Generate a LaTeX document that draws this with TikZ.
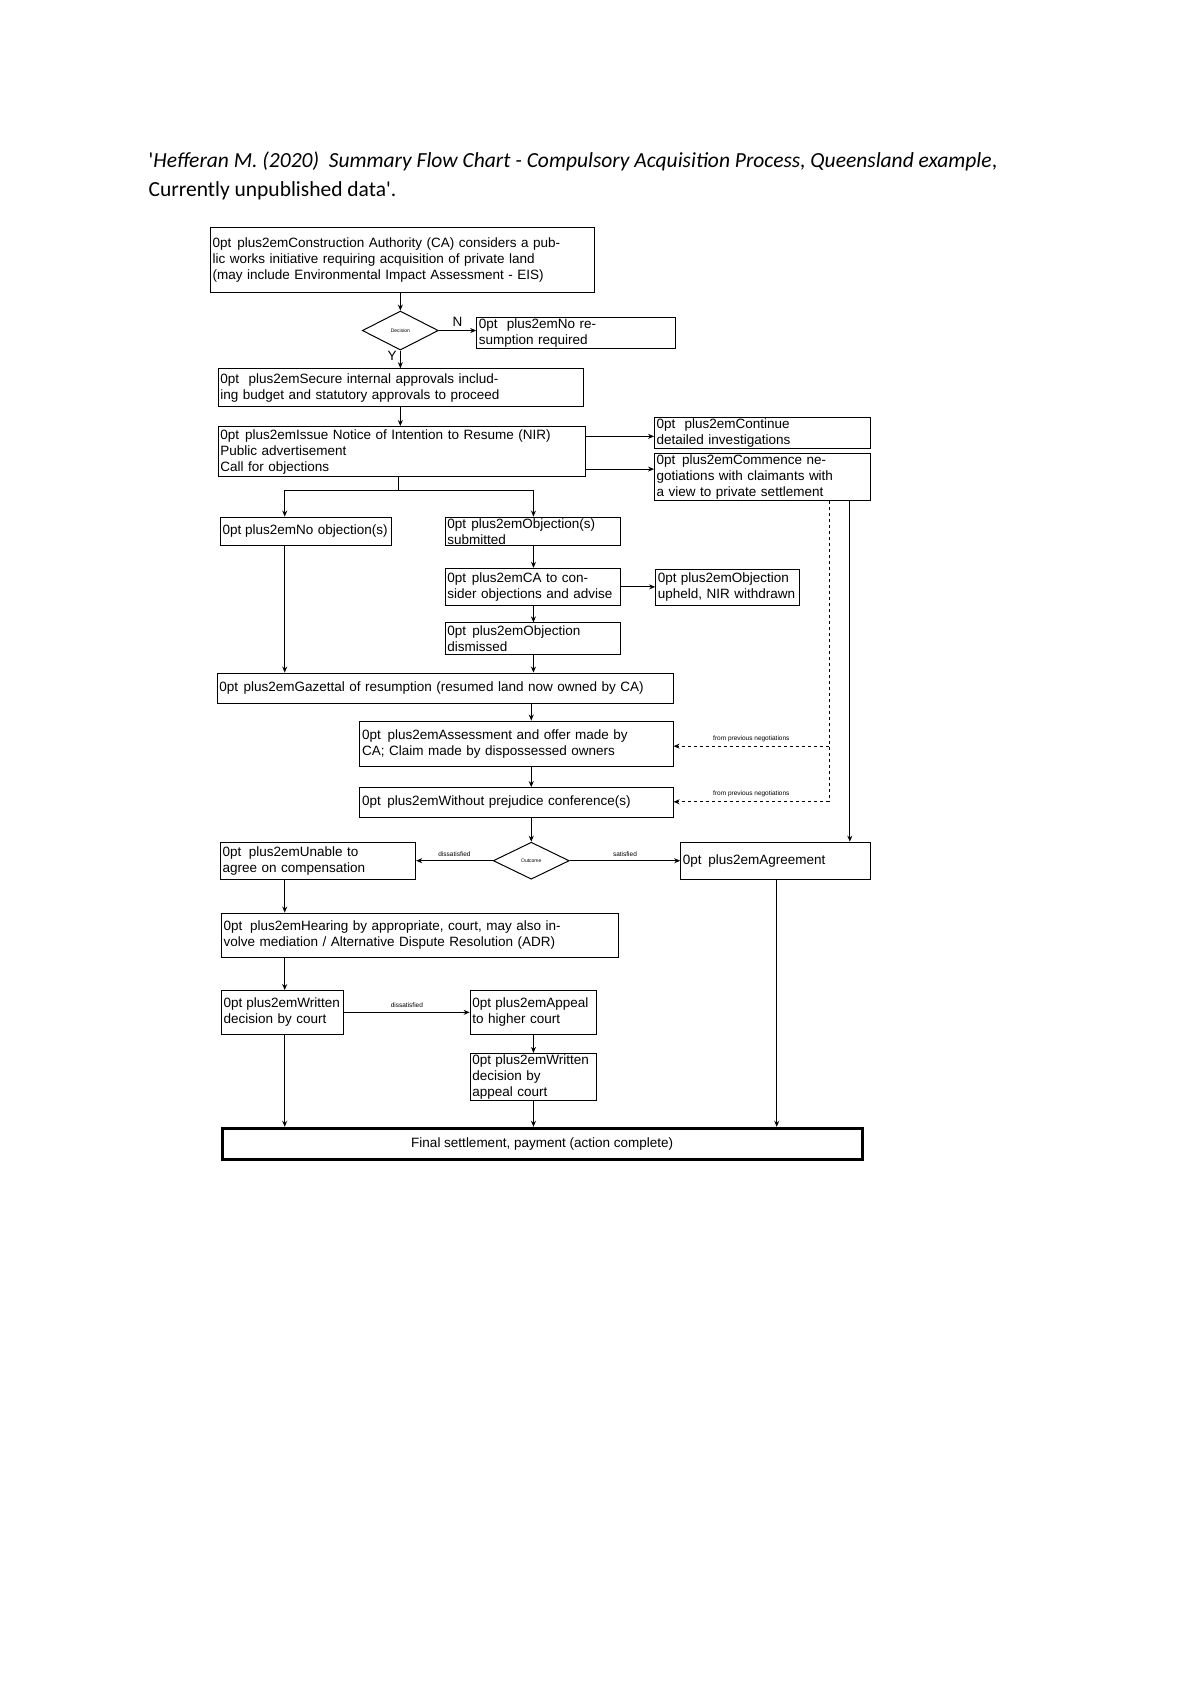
\documentclass[tikz,border=0pt]{standalone}
\usepackage{fontspec}
\setmainfont{Liberation Sans}
\newfontfamily\carl{Carlito}
\usetikzlibrary{shapes.geometric,arrows.meta}
\begin{document}
\begin{tikzpicture}[x=1.0909pt,y=-1.0909pt,
 bx/.style={draw,line width=1pt,align=center,inner sep=1pt,font=\fontsize{13.5}{16}\selectfont\hyphenpenalty=10000},
 dia/.style={draw,line width=1pt,diamond,aspect=2,inner sep=0pt,font=\fontsize{5}{6}\selectfont},
 ar/.style={-{Stealth[length=6pt,width=5pt]},line width=1pt},
 lb/.style={font=\fontsize{6.5}{7}\selectfont,inner sep=1pt}]
\useasboundingbox (0,0) rectangle (1100,1554.7);
\node[anchor=west,font=\carl\fontsize{21.5}{24}\selectfont] (t1) at (133,148) {'\textit{Hefferan M. (2020)\ \ Summary Flow Chart - Compulsory Acquisition Process, Queensland example},};
\node[anchor=west,font=\carl\fontsize{21.5}{24}\selectfont] (t2) at (133,175) {Currently unpublished data'.};
\newcommand\bxat[6]{\node[bx,minimum width={(#3-#2)*1.0909pt},minimum height={(#5-#4)*1.0909pt},text width={(#3-#2-4)*1.0909pt}] (#1) at ({(#2+#3)/2},{(#4+#5)/2}) {#6};}
\bxat{ca}{193}{545}{209}{268}{Construction Authority (CA) considers a public works initiative requiring acquisition of private land (may include Environmental Impact Assessment - EIS)}
\node[dia,minimum width=76pt,minimum height=39pt] (dec) at (367,303) {Decision};
\bxat{nores}{437}{619}{292}{318}{No resumption required}
\bxat{sec}{200}{535}{338}{373}{Secure internal approvals including budget and statutory approvals to proceed}
\bxat{nir}{200}{537}{391}{437}{Issue Notice of Intention to Resume (NIR)\\Public advertisement\\Call for objections}
\bxat{cont}{600}{798}{383}{411}{Continue detailed investigations}
\bxat{comm}{600}{798}{416}{458}{Commence negotiations with claimants with a view to private settlement}
\bxat{noobj}{202}{359}{474}{500}{No objection(s)}
\bxat{obj}{408}{569}{474}{500}{Objection(s) submitted}
\bxat{cac}{408}{569}{521}{555}{CA to consider objections and advise}
\bxat{uph}{601}{733}{522}{555}{Objection upheld, NIR withdrawn}
\bxat{dis}{408}{569}{571}{600}{Objection dismissed}
\bxat{gaz}{199}{617}{617}{645}{Gazettal of resumption (resumed land now owned by CA)}
\bxat{ass}{330}{617}{661}{703}{Assessment and offer made by CA; Claim made by dispossessed owners}
\bxat{wpc}{330}{617}{722}{749}{Without prejudice conference(s)}
\bxat{una}{202}{381}{772}{806}{Unable to agree on compensation}
\node[dia,minimum width=76pt,minimum height=37pt] (out) at (487,789) {Outcome};
\bxat{agr}{624}{798}{772}{806}{Agreement}
\bxat{hear}{203}{567}{837}{878}{Hearing by appropriate, court, may also involve mediation / Alternative Dispute Resolution (ADR)}
\bxat{wdc}{203}{315}{908}{948}{Written decision by court}
\bxat{app}{431}{547}{908}{948}{Appeal to higher court}
\bxat{wda}{431}{547}{967}{1007}{Written decision by appeal court}
\node[draw,line width=3pt,minimum width=640pt,minimum height=31pt,font=\fontsize{13.5}{16}\selectfont] (fin) at (497,1048.5) {Final settlement, payment (action complete)};
% connectors
\coordinate (n1) at (537,400);
\coordinate (n2) at (537,430);
\coordinate (split) at (365,450);
\coordinate (cx) at (489,0);
\coordinate (lx) at (261,0);
\coordinate (dx) at (760,0);
\coordinate (sx) at (779,0);
\coordinate (ax) at (712,0);
\coordinate (d1) at (760,684);
\coordinate (d2) at (760,735);
\draw[ar] (ca.south -| dec.north) -- (dec.north);
\draw[ar] (dec.east) -- node[above,font=\fontsize{13.5}{16}\selectfont]{N} (nores.west |- dec.east);
\draw[ar] (dec.south) -- node[pos=0.3,left,font=\fontsize{13.5}{16}\selectfont]{Y} (dec.south |- sec.north);
\draw[ar] (sec.south -| dec.south) -- (nir.north -| dec.south);
\draw[ar] (n1) -- (cont.west |- n1);
\draw[ar] (n2) -- (comm.west |- n2);
\draw[line width=1pt] (nir.south -| split) -- (split);
\draw[ar] (split) -| (noobj.north -| lx);
\draw[ar] (split) -| (obj.north -| cx);
\draw[ar] (obj.south -| cx) -- (cac.north -| cx);
\draw[ar] (cac.east) -- (uph.west |- cac.east);
\draw[ar] (cac.south -| cx) -- (dis.north -| cx);
\draw[ar] (dis.south -| cx) -- (gaz.north -| cx);
\draw[ar] (noobj.south -| lx) -- (gaz.north -| lx);
\draw[ar] (gaz.south -| out.north) -- (ass.north -| out.north);
\draw[ar] (ass.south -| out.north) -- (wpc.north -| out.north);
\draw[ar] (wpc.south -| out.north) -- (out.north);
\draw[line width=1pt,dashed] (comm.south -| dx) -- (d2);
\draw[ar,dashed] (d1) -- node[lb,above=3pt]{from previous negotiations} (ass.east |- d1);
\draw[ar,dashed] (d2) -- node[lb,above=3pt]{from previous negotiations} (wpc.east |- d2);
\draw[ar] (comm.south -| sx) -- (agr.north -| sx);
\draw[ar] (out.west) -- node[lb,above=3pt]{dissatisfied} (una.east |- out.west);
\draw[ar] (out.east) -- node[lb,above=3pt]{satisfied} (agr.west |- out.east);
\draw[ar] (una.south -| lx) -- (hear.north -| lx);
\draw[ar] (hear.south -| lx) -- (wdc.north -| lx);
\draw[ar] (wdc.east) -- node[lb,above=3pt]{dissatisfied} (app.west |- wdc.east);
\draw[ar] (app.south -| cx) -- (wda.north -| cx);
\draw[ar] (wdc.south -| lx) -- (fin.north -| lx);
\draw[ar] (wda.south -| cx) -- (fin.north -| cx);
\draw[ar] (agr.south -| ax) -- (fin.north -| ax);
\end{tikzpicture}
\end{document}
